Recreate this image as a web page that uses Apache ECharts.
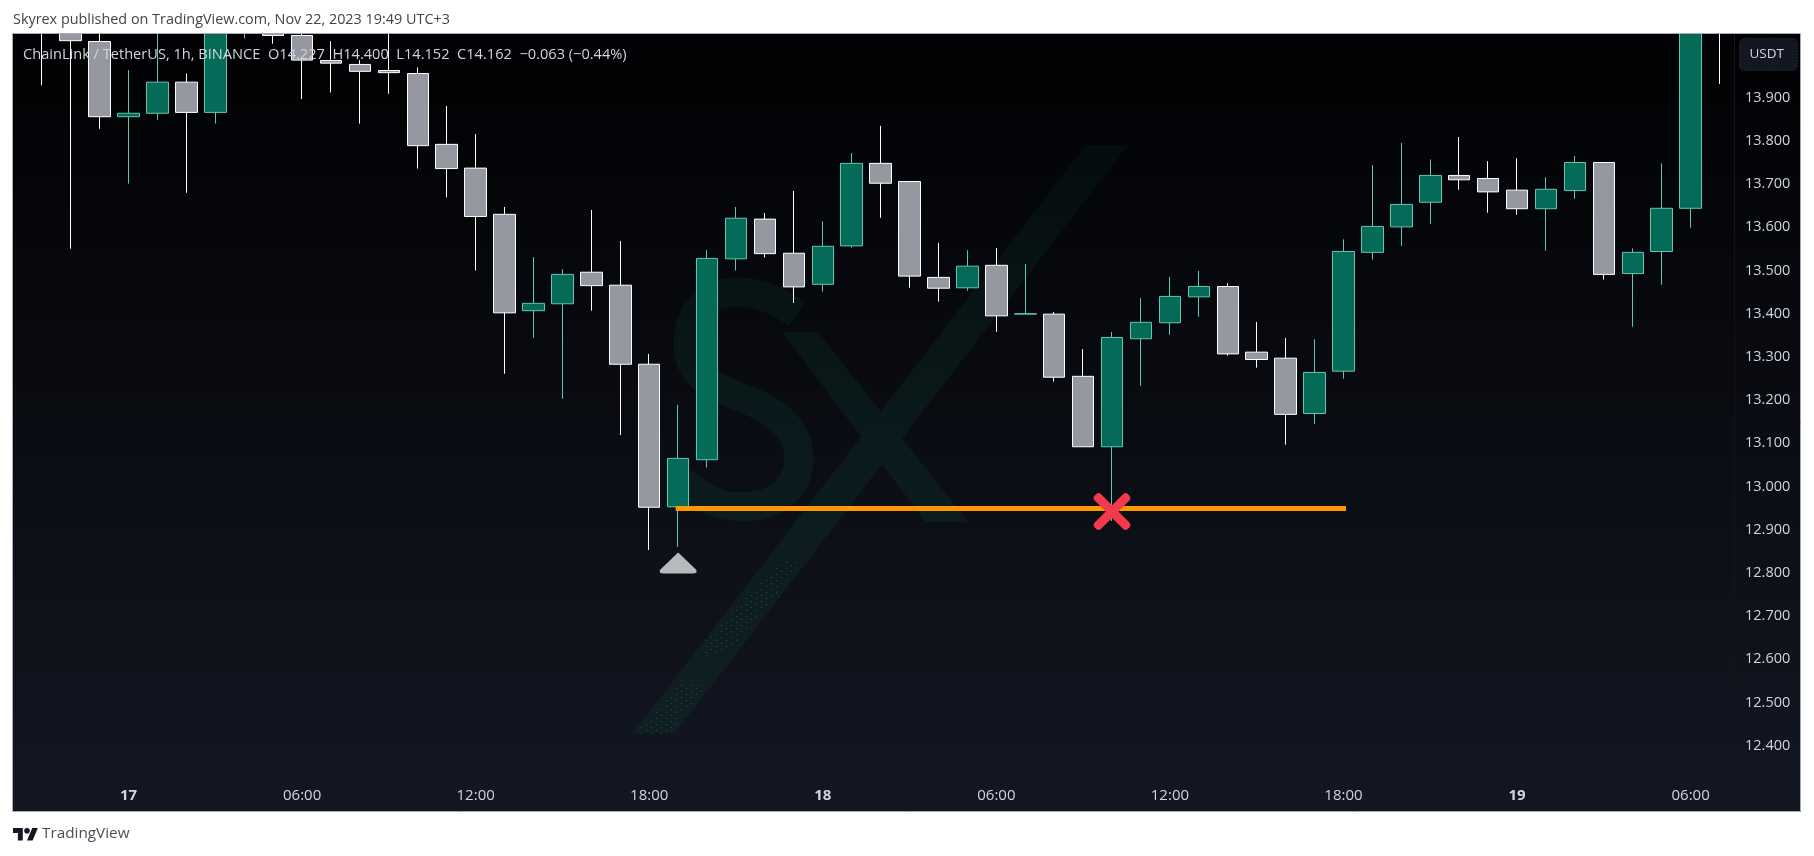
<!DOCTYPE html>
<html>
<head>
<meta charset="utf-8">
<style>html,body{margin:0;padding:0;background:#fff}#c{width:1814px;height:856px}</style>
<script src="https://cdn.jsdelivr.net/npm/echarts@6/dist/echarts.min.js"></script>
</head>
<body>
<div id="c"></div>
<script>
const categories = ["21:00","22:00","23:00","17","01:00","02:00","03:00","04:00","05:00","06:00","07:00","08:00","09:00","10:00","11:00","12:00","13:00","14:00","15:00","16:00","17:00","18:00","19:00","20:00","21:00","22:00","23:00","18","01:00","02:00","03:00","04:00","05:00","06:00","07:00","08:00","09:00","10:00","11:00","12:00","13:00","14:00","15:00","16:00","17:00","18:00","19:00","20:00","21:00","22:00","23:00","19","01:00","02:00","03:00","04:00","05:00","06:00","07:00"];
const dateLabels = ["17","18","19"];
const opens  = [14.3,14.1,14.03,13.856,13.864,13.936,13.866,14.1,14.2,14.044,13.986,13.977,13.963,13.956,13.792,13.737,13.63,13.407,13.423,13.496,13.466,13.283,12.953,13.062,13.527,13.619,13.54,13.468,13.557,13.748,13.706,13.484,13.46,13.512,13.399,13.399,13.255,13.092,13.342,13.379,13.439,13.463,13.311,13.297,13.169,13.267,13.542,13.601,13.658,13.72,13.713,13.686,13.643,13.685,13.75,13.493,13.544,13.644,14.3];
const closes = [14.2,14.032,13.856,13.864,13.936,13.866,14.1,14.2,14.044,13.987,13.98,13.961,13.958,13.789,13.736,13.625,13.402,13.424,13.491,13.465,13.283,12.952,13.065,13.528,13.621,13.539,13.462,13.556,13.748,13.702,13.487,13.459,13.51,13.395,13.4,13.253,13.092,13.345,13.38,13.44,13.463,13.307,13.294,13.167,13.264,13.544,13.602,13.653,13.72,13.71,13.682,13.643,13.688,13.75,13.491,13.542,13.644,14.1,14.2];
const lows   = [13.929,13.5505,13.828,13.701,13.849,13.68,13.84,14.037,14.025,13.897,13.912,13.84,13.909,13.736,13.669,13.5,13.261,13.344,13.203,13.407,13.119,12.853,12.86,13.044,13.5,13.53,13.425,13.451,13.553,13.622,13.46,13.428,13.453,13.358,13.399,13.243,13.092,12.92,13.233,13.351,13.393,13.303,13.275,13.097,13.145,13.25,13.525,13.557,13.608,13.687,13.634,13.629,13.546,13.666,13.479,13.37,13.467,13.599,13.932];
const highs  = [14.4,14.2,14.1,13.964,14.1,13.956,14.2,14.3,14.3,14.1,14.031,13.987,14.1,13.97,13.881,13.816,13.647,13.531,13.503,13.64,13.568,13.307,13.189,13.547,13.647,13.633,13.684,13.614,13.772,13.835,13.706,13.564,13.547,13.552,13.515,13.404,13.318,13.358,13.436,13.485,13.499,13.471,13.381,13.344,13.341,13.572,13.744,13.795,13.757,13.809,13.753,13.76,13.716,13.765,13.75,13.551,13.748,14.2,14.4];
const levelStart = 22, levelEnd = 45, levelPrice = 12.949;
const failIndex = 37, failPrice = 12.942;
const signalIndex = 22, signalPrice = 12.823;
const publishedText = "Skyrex published on TradingView.com, Nov 22, 2023 19:49 UTC+3";
const legendText = "ChainLink / TetherUS, 1h, BINANCE  O14.227  H14.400  L14.152  C14.162  \u22120.063 (\u22120.44%)";
const uiFont = '"Open Sans", "Noto Sans", sans-serif';

const candles = categories.map((_, i) => [opens[i], closes[i], lows[i], highs[i]]);

const cv = document.createElement('canvas');
cv.width = 10; cv.height = 6;
const cx = cv.getContext('2d');
cx.fillStyle = 'rgba(12,115,88,0.8)';
cx.fillRect(1, 1, 1, 1);
cx.fillRect(6, 4, 1, 1);

echarts.graphic.registerShape('wmX', echarts.graphic.extendPath('M1086 145 L1128 145 L675 733 L633 733Z M782 332 L818 332 L968 522 L926 522Z', {}));
echarts.graphic.registerShape('wmS', echarts.graphic.extendPath('M797 314 C775 298 757 292 738 292 C706 292 688 315 688 345 C688 372 708 385 740 397 C778 411 799 430 799 458 C799 490 772 507 743 507 C720 507 698 497 682 480', {}));
echarts.graphic.registerShape('tvLogo', echarts.graphic.extendPath('M14 22H7V11H0V4h14v18zM28 22h-8l7.5-18h8L28 22z M24 8 a4 4 0 1 1 -8 0 a4 4 0 1 1 8 0z', {}));

const chart = echarts.init(document.getElementById('c'), null, {renderer: 'canvas'});
const wm = new echarts.graphic.LinearGradient(0, 145, 0, 733, [{offset: 0, color: 'rgba(10,72,56,0.12)'}, {offset: 0.55, color: 'rgba(10,72,56,0.24)'}, {offset: 1, color: 'rgba(10,72,56,0.2)'}], true);
chart.setOption({
  animation: false,
  backgroundColor: '#ffffff',
  grid: {left: 27.3, width: 1706.7, top: 34.2, height: 754.7, containLabel: false},
  xAxis: {
    type: 'category', data: categories, boundaryGap: true,
    axisLine: {show: false}, axisTick: {show: false}, splitLine: {show: false},
    axisLabel: {
      interval: (i) => i % 6 === 3,
      margin: -1,
      formatter: (v) => dateLabels.includes(v) ? '{d|' + v + '}' : '{t|' + v + '}',
      rich: {
        d: {color: '#d1d4dc', fontFamily: uiFont, fontSize: 15, fontWeight: 'bold'},
        t: {color: '#d1d4dc', fontFamily: uiFont, fontSize: 15}
      }
    }
  },
  yAxis: {
    type: 'value', position: 'right', min: 12.3, max: 14.047, interval: 0.1,
    axisLine: {show: true, lineStyle: {color: '#12151c'}}, axisTick: {show: false}, splitLine: {show: false},
    axisLabel: {
      margin: 11, color: '#d1d4dc', fontFamily: uiFont, fontSize: 14.5, padding: [2, 0, 0, 0],
      formatter: (v) => (v < 12.35 || v > 13.95) ? '' : v.toFixed(3)
    }
  },
  series: [
    {
      type: 'candlestick', data: candles, barWidth: 22, z: 3,
      itemStyle: {color: '#066a58', color0: '#9598a1', borderColor: '#5cc8b0', borderColor0: '#ffffff', borderColorDoji: '#5cc8b0', borderWidth: 1}
    },
    {
      type: 'line', z: 5, symbol: 'none', silent: true,
      data: [[levelStart, levelPrice], [levelEnd, levelPrice]],
      lineStyle: {color: '#ff9800', width: 5, cap: 'square'}
    },
    {
      type: 'scatter', z: 6, silent: true, symbolSize: 37,
      symbol: 'path://M20 3 L50 33 L80 3 Q86 -2 92 3 L97 8 Q102 14 97 20 L67 50 L97 80 Q102 86 97 92 L92 97 Q86 102 80 97 L50 67 L20 97 Q14 102 8 97 L3 92 Q-2 86 3 80 L33 50 L3 20 Q-2 14 3 8 L8 3 Q14 -2 20 3 Z',
      itemStyle: {color: '#f23a4c', opacity: 1},
      data: [[failIndex, failPrice]]
    },
    {
      type: 'scatter', z: 6, silent: true, symbolSize: [37, 21],
      symbol: 'path://M50 0 L97 80 Q105 100 88 100 L12 100 Q-5 100 3 80 Z',
      itemStyle: {color: '#b8b9bd', opacity: 1},
      data: [[signalIndex, signalPrice]]
    }
  ],
  graphic: [
    {type: 'rect', z: -10, shape: {x: 13, y: 34, width: 1788, height: 778},
      style: {fill: new echarts.graphic.LinearGradient(0, 0, 0, 1, [{offset: 0, color: '#010103'}, {offset: 1, color: '#131722'}])}},
    {type: 'wmX', z: -5, style: {fill: wm}},
    {type: 'wmS', z: -5, style: {fill: 'none', stroke: wm, lineWidth: 29}},
    {type: 'polygon', z: -4, shape: {points: [[783,560],[803,560],[735,645],[722,654],[704,654],[706,640]]}, style: {fill: {image: cv, repeat: 'repeat'}}},
    {type: 'polygon', z: -4, shape: {points: [[679,683],[708,683],[670,734],[636,734]]}, style: {fill: {image: cv, repeat: 'repeat'}}},
    {type: 'rect', z: 40, shape: {x: 0, y: 0, width: 1814, height: 33.5}, style: {fill: '#ffffff'}},
    {type: 'rect', z: 50, shape: {x: 12.5, y: 33.5, width: 1788, height: 778}, style: {fill: 'none', stroke: '#a8abb3', lineWidth: 1}},
    {type: 'text', z: 60, left: 13, top: 12.5, style: {text: publishedText, fill: '#444444', font: '14.4px ' + uiFont}},
    {type: 'text', z: 60, left: 23, top: 47, style: {text: legendText, fill: '#d1d4dc', font: '14.6px ' + uiFont}},
    {type: 'rect', z: 60, shape: {x: 1739.5, y: 38.5, width: 58, height: 32, r: 5}, style: {fill: '#131722', stroke: '#363a45', lineWidth: 1, lineDash: [1, 2]}},
    {type: 'text', z: 61, left: 1749.5, top: 47.5, style: {text: 'USDT', fill: '#d1d4dc', font: '13.5px ' + uiFont}},
    {type: 'tvLogo', z: 60, x: 13, y: 825.2, scaleX: 0.7, scaleY: 0.7, style: {fill: '#131722'}},
    {type: 'text', z: 60, left: 42, top: 826.5, style: {text: 'TradingView', fill: '#4a4e59', font: '15.3px ' + uiFont}}
  ]
});
</script>
</body>
</html>
